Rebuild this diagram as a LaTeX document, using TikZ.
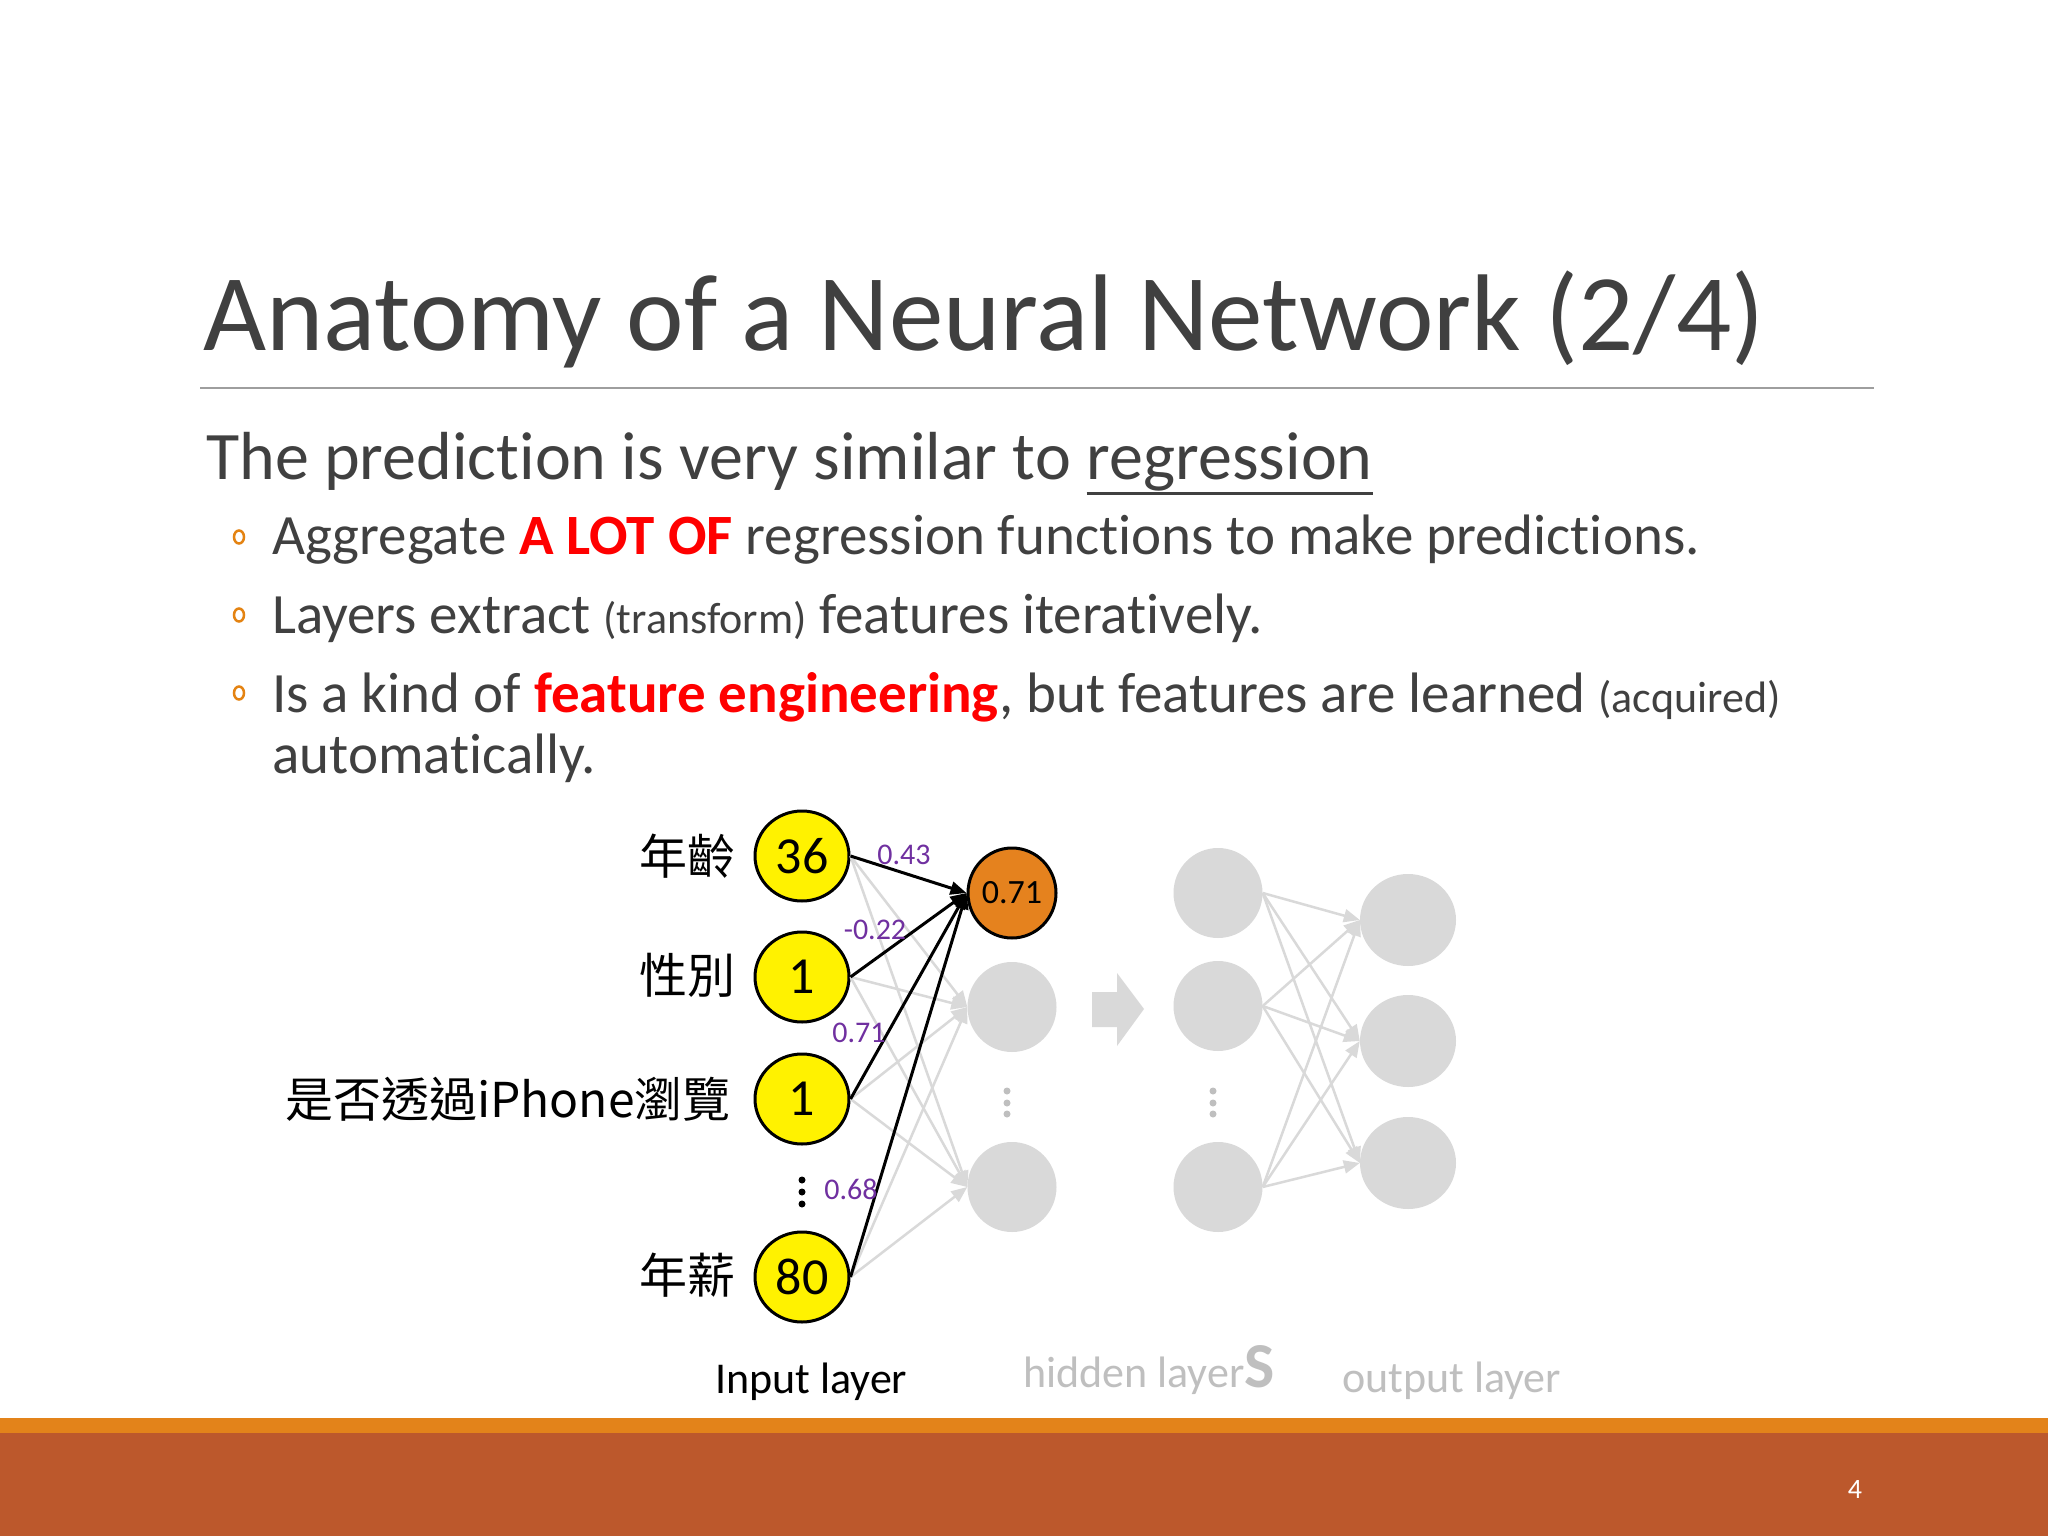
\documentclass[tikz,border=0pt]{standalone}
\usepackage{fontspec}
\setmainfont{Carlito}[Ligatures={TeX,NoCommon}]
\newfontfamily\cjkfont{Noto Sans CJK TC}
\usetikzlibrary{arrows.meta,calc,shapes.geometric}
\definecolor{txt}{HTML}{404040}
\definecolor{bul}{HTML}{E48312}
\definecolor{barorange}{HTML}{E3831A}
\definecolor{rust}{HTML}{BC582C}
\definecolor{nodegray}{HTML}{D9D9D9}
\definecolor{dotgray}{HTML}{BFBFBF}
\definecolor{labgray}{HTML}{BFBFBF}
\definecolor{wpurple}{HTML}{7030A0}
\definecolor{nodeorange}{HTML}{E5821E}
\newcommand\myfs[1]{\fontsize{#1}{#1}\selectfont}
\tikzset{
  innode/.style={ellipse,draw=black,line width=3pt,fill=yellow,minimum width=94pt,minimum height=90pt,inner sep=0pt,font=\myfs{52}},
  hidnode/.style={ellipse,fill=nodegray,minimum width=89pt,minimum height=90pt,inner sep=0pt},
  outnode/.style={ellipse,fill=nodegray,minimum width=96pt,minimum height=92pt,inner sep=0pt},
  blackconn/.style={line width=3pt,draw=black,-{Triangle[length=16pt,width=13pt]}},
  grayconn/.style={line width=2.5pt,draw=nodegray,-{Triangle[length=16pt,width=13pt]}},
  weight/.style={text=wpurple,font=\myfs{30},inner sep=0pt},
  cjklab/.style={anchor=east,inner sep=0pt,font=\cjkfont\myfs{48}},
  txtnode/.style={anchor=base west,inner sep=0pt,text=txt},
  bulletmark/.style={draw=bul,line width=2.5pt},
}
\begin{document}
\begin{tikzpicture}[x=1pt,y=-1pt]
\useasboundingbox (0,0) rectangle (2048,1536);
\fill[white] (0,0) rectangle (2048,1536);

% title
\node[txtnode,font=\myfs{109}] (title) at (203,350) {Anatomy of a Neural Network (2/4)};
\draw[line width=2pt,draw=black!38] (200,388) -- (1874,388);

% subtitle
\node[txtnode,font=\myfs{68}] (sub) at (206,479) {The prediction is very similar to\ \null};
\node[txtnode,font=\myfs{68}] (reg) at (sub.base east) {regression};
\draw[line width=3pt,draw=txt] ([yshift=-3pt]reg.south west) -- ([yshift=-3pt]reg.south east);

% bullets
\draw[bulletmark] (239,537) ellipse (5pt and 6.5pt);
\draw[bulletmark] (239,615) ellipse (5pt and 6.5pt);
\draw[bulletmark] (239,693) ellipse (5pt and 6.5pt);
\node[txtnode,font=\myfs{57}] (b1) at (272,554) {Aggregate \textcolor{red}{\bfseries A LOT OF} regression functions to make predictions.};
\node[txtnode,font=\myfs{57}] (b2) at (272,633) {Layers extract {\myfs{44}(transform)} features iteratively.};
\node[txtnode,font=\myfs{57}] (b3) at (272,712) {Is a kind of \textcolor{red}{\bfseries feature engineering}, but features are learned {\myfs{44}(acquired)}};
\node[txtnode,font=\myfs{57}] (b3b) at (272,773) {automatically.};

% nodes
\node[innode] (in1) at (802,856) {36};
\node[innode] (in2) at (802,977) {1};
\node[innode] (in3) at (802,1099) {1};
\node[innode] (in4) at (802,1277) {80};
\node[ellipse,draw=black,line width=3pt,fill=nodeorange,minimum width=88pt,minimum height=90pt,inner sep=0pt,font=\myfs{34}] (h1) at (1012,893) {0.71};
\node[hidnode] (h2) at (1012,1007) {};
\node[hidnode] (h3) at (1012,1187) {};
\node[hidnode] (g1) at (1218,893) {};
\node[hidnode] (g2) at (1218,1006) {};
\node[hidnode] (g3) at (1218,1187) {};
\node[outnode] (o1) at (1408,920) {};
\node[outnode] (o2) at (1408,1041) {};
\node[outnode] (o3) at (1408,1163) {};

% labels
\node[cjklab] (l1) at (736,856) {年齡};
\node[cjklab] (l2) at (736,975) {性別};
\node[cjklab] (l3) at (731,1099) {是否透過iPhone瀏覽};
\node[cjklab] (l4) at (736,1275) {年薪};

% gray connectors input -> hidden
\foreach \i in {1,2,3,4}{
  \draw[grayconn] (in\i.east) -- (h2.west);
  \draw[grayconn] (in\i.east) -- (h3.west);
}
% black connectors
\foreach \i in {1,2,3,4}{
  \draw[blackconn] (in\i.east) -- (h1.west);
}
% hidden -> output
\foreach \i in {1,2,3}{
  \foreach \j in {1,2,3}{
    \draw[grayconn] (g\i.east) -- (o\j.west);
  }
}

% weights
\node[weight] (w1) at (904,855) {0.43};
\node[weight] (w2) at (875,930) {-0.22};
\node[weight] (w3) at (859,1033) {0.71};
\node[weight] (w4) at (851,1189) {0.68};

% dots
\foreach \y in {1180,1192,1204}{\fill[black] (802,\y) circle (3.5pt);}
\foreach \y in {1091,1103,1114}{\fill[dotgray] (1007,\y) circle (3.5pt);}
\foreach \y in {1091,1103,1114}{\fill[dotgray] (1213,\y) circle (3.5pt);}

% block arrow
\fill[nodegray] (1092,992) -- (1117,992) -- (1117,973) -- (1144,1009) -- (1117,1046) -- (1117,1027) -- (1092,1027) -- cycle;

% layer labels
\node[anchor=base west,inner sep=0pt,font=\myfs{44}] (inl) at (715,1393) {Input layer};
\node[anchor=base west,inner sep=0pt,text=labgray] (hidl) at (1023,1387) {{\myfs{44}hidden layer}{\myfs{64}\bfseries S}};
\node[anchor=base west,inner sep=0pt,text=labgray,font=\myfs{44}] (outl) at (1342,1392) {output layer};

% footer
\fill[barorange] (0,1418) rectangle (2048,1433);
\fill[rust] (0,1433) rectangle (2048,1536);
\node[text=white,font=\myfs{28},inner sep=0pt] (pg) at (1855,1489) {4};
\end{tikzpicture}
\end{document}
